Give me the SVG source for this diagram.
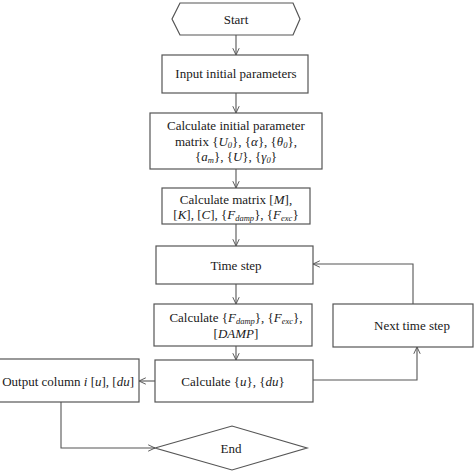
<svg xmlns="http://www.w3.org/2000/svg" width="474" height="474" viewBox="0 0 474 474">
<defs>
<style>
.box{fill:#fff;stroke:#555;stroke-width:1.2}
.ln{fill:none;stroke:#555;stroke-width:1.1;marker-end:url(#ar)}
text{font-family:"Liberation Serif","Times New Roman",serif;font-size:13px;fill:#1a1a1a;text-anchor:middle}
.i{font-style:italic}
.s{font-size:8.5px;font-style:italic}
</style>
<marker id="ar" viewBox="0 0 10 10" refX="9.5" refY="5" markerWidth="8" markerHeight="8" markerUnits="userSpaceOnUse" orient="auto">
<path d="M1,1 L9.5,5 L1,9" fill="none" stroke="#555" stroke-width="1.2"/>
</marker>
</defs>
<rect width="474" height="474" fill="#fff"/>
<g id="connectors">
<line class="ln" x1="236" y1="35" x2="236" y2="55"/>
<line class="ln" x1="236" y1="93" x2="236" y2="113"/>
<line class="ln" x1="236" y1="169" x2="236" y2="188"/>
<line class="ln" x1="236" y1="224" x2="236" y2="246"/>
<line class="ln" x1="236" y1="284" x2="236" y2="304"/>
<line class="ln" x1="236" y1="346" x2="236" y2="360"/>
<polyline class="ln" points="313,380 417,380 417,347"/>
<polyline class="ln" points="413,304 413,264 313,264"/>
<line class="ln" x1="155" y1="381" x2="139" y2="381"/>
<polyline class="ln" points="61,402 61,448 155,448"/>
</g>
<g id="start">
<polygon class="box" points="172,19 180,3 293,3 300,19 293,35 180,35"/>
<text x="236" y="24">Start</text>
</g>
<g id="input">
<rect class="box" x="162" y="55" width="146" height="38"/>
<text x="236" y="78">Input initial parameters</text>
</g>
<g id="calcInit">
<rect class="box" x="150" y="113" width="172" height="56"/>
<text x="236" y="130">Calculate initial parameter</text>
<text x="236" y="146">matrix {<tspan class="i">U</tspan><tspan class="s" dy="2">0</tspan><tspan dy="-2">}, {</tspan><tspan class="i">α</tspan>}, {<tspan class="i">θ</tspan><tspan class="s" dy="2">0</tspan><tspan dy="-2">},</tspan></text>
<text x="236" y="161">{<tspan class="i">a</tspan><tspan class="s" dy="2">m</tspan><tspan dy="-2">}, {</tspan><tspan class="i">U</tspan>}, {<tspan class="i">γ</tspan><tspan class="s" dy="2">0</tspan><tspan dy="-2">}</tspan></text>
</g>
<g id="calcMatrix">
<rect class="box" x="162" y="188" width="148" height="36"/>
<text x="236" y="204">Calculate matrix [<tspan class="i">M</tspan>],</text>
<text x="236" y="219">[<tspan class="i">K</tspan>], [<tspan class="i">C</tspan>], {<tspan class="i">F</tspan><tspan class="s" dy="2">damp</tspan><tspan dy="-2">}, {</tspan><tspan class="i">F</tspan><tspan class="s" dy="2">exc</tspan><tspan dy="-2">}</tspan></text>
</g>
<g id="timeStep">
<rect class="box" x="156" y="246" width="157" height="38"/>
<text x="236" y="270">Time step</text>
</g>
<g id="calcF">
<rect class="box" x="154" y="304" width="158" height="42"/>
<text x="236" y="322">Calculate {<tspan class="i">F</tspan><tspan class="s" dy="2">damp</tspan><tspan dy="-2">}, {</tspan><tspan class="i">F</tspan><tspan class="s" dy="2">exc</tspan><tspan dy="-2">},</tspan></text>
<text x="236" y="338">[<tspan class="i">DAMP</tspan>]</text>
</g>
<g id="calcU">
<rect class="box" x="155" y="360" width="158" height="42"/>
<text x="233" y="386">Calculate {<tspan class="i">u</tspan>}, {<tspan class="i">du</tspan>}</text>
</g>
<g id="nextStep">
<rect class="box" x="333" y="304" width="140" height="43"/>
<text x="412" y="330">Next time step</text>
</g>
<g id="output">
<rect class="box" x="-17" y="359" width="156" height="43"/>
<text x="134" y="386" style="text-anchor:end">Output column <tspan class="i">i</tspan> [<tspan class="i">u</tspan>], [<tspan class="i">du</tspan>]</text>
</g>
<g id="end">
<polygon class="box" points="155,448 232,426 307,448 232,470"/>
<text x="231" y="453">End</text>
</g>
</svg>
